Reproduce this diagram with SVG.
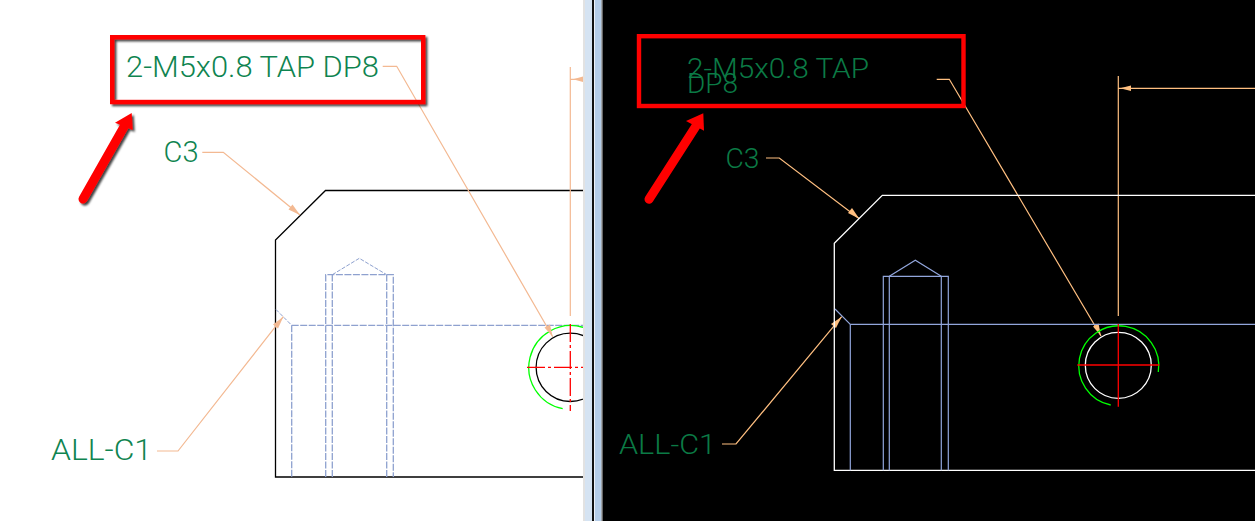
<svg xmlns="http://www.w3.org/2000/svg" width="1255" height="521" viewBox="0 0 1255 521">
<style>
.txl{font-family:"Roboto","Liberation Sans",Arial,sans-serif;font-weight:300;font-size:29px;fill:#0f8450}
.txr{font-family:"Roboto","Liberation Sans",Arial,sans-serif;font-weight:300;font-size:27px;fill:#0b7a45}
.outl{fill:none;stroke:#000;stroke-width:1.3}
.outr{fill:none;stroke:#fff;stroke-width:1.3}
.hidl{fill:none;stroke:#8ea1cf;stroke-width:1.3;stroke-dasharray:7 1.5}
.thin{fill:none;stroke:#8ea1cf;stroke-width:1;stroke-dasharray:4 1.5}
.hidr{fill:none;stroke:#92a6dc;stroke-width:1.2}
.ldl{fill:none;stroke:#f3b992;stroke-width:1.2}
.ldr{fill:none;stroke:#ffbf80;stroke-width:1.2}
.hdl{fill:#f3b992}
.hdr{fill:#ffbf80}
.grn{fill:none;stroke:#00ff00;stroke-width:1.3}
.cent{fill:none;stroke:#ff0000;stroke-width:1.3}
.box{fill:none;stroke:#ff0000;stroke-width:4.4}
.arw{fill:none;stroke:#ff0000;stroke-width:9;stroke-linecap:round}
.arh{fill:#ff0000}
</style>
<defs>
<filter id="sh" x="-10%" y="-20%" width="120%" height="140%">
<feDropShadow dx="2" dy="2" stdDeviation="1.3" flood-color="#000" flood-opacity="0.75"/>
</filter>
<clipPath id="lp"><rect x="0" y="0" width="583" height="521"/></clipPath>
</defs>
<rect id="bg-left" x="0" y="0" width="583" height="521" fill="#fff"/>
<rect id="bg-right" x="603" y="0" width="652" height="521" fill="#000"/>
<g id="divider">
<rect x="583" y="0" width="2" height="521" fill="#e2e2e2"/>
<rect x="585" y="0" width="7" height="521" fill="#d5e3f2"/>
<rect x="592" y="0" width="2" height="521" fill="#111"/>
<rect x="594" y="0" width="1" height="521" fill="#eef3f9"/>
<rect x="595" y="0" width="6.500" height="521" fill="#b5cde8"/>
<rect x="601.500" y="0" width="1.500" height="521" fill="#666"/>
</g>
<g id="left-drawing" clip-path="url(#lp)">
<path class="outl" d="M583 190.500H325.500L275.500 240V477H583"/>
<path class="hidl" d="M291.700 325.300H583M291.700 325.300V477M325.700 477V274.700H393.300V477M332.300 477V274.700M386.700 477V274.700"/>
<path class="thin" d="M276 309.500L291.700 325.300M332.300 274.700L359.300 258.300L386.700 274.700"/>
<circle class="outl" cx="570.300" cy="367.300" r="34.200"/>
<path class="grn" d="M562.700 408.700A42 42 0 1 1 583 327.300"/>
<path class="cent" stroke-dasharray="18 3 3 3" d="M570.300 324V411M527 367.300H583"/>
</g>
<g id="connectors">
<path class="ldl" d="M202.300 152.300H223.300L300 215"/>
<path class="hdl" d="M300 215L288.500 209.500L292.500 204.500Z"/>
<path class="ldl" d="M382.700 66.300H396.700L552.700 336.700"/>
<path class="hdl" d="M552.700 336.700L544.500 327.500L550 324.500Z"/>
<path class="ldl" d="M157 451H178L283.300 316.700"/>
<path class="hdl" d="M283.300 316.700L278 328.500L273 324.500Z"/>
<path class="ldl" d="M570.300 67V316M570.300 79.300H583" stroke-width="1.500"/>
<path class="hdl" d="M573 79.300L583 76.500V82Z"/>
<path class="ldr" d="M766 158H779.300L859.300 218.700"/>
<path class="hdr" d="M859.300 218.700L848 213L852 208Z"/>
<path class="ldr" d="M936.700 79.300H949.300L1101 336"/>
<path class="hdr" d="M1101 336L1093 326.500L1098.500 323.500Z"/>
<path class="ldr" d="M722 444H736L841.700 316.700"/>
<path class="hdr" d="M841.700 316.700L836 328L831 324Z"/>
<path class="ldr" d="M1118.300 76V316M1118.300 88.300H1255"/>
<path class="hdr" d="M1120 88.300L1131 85.500V91Z"/>
</g>
<g id="right-drawing">
<path class="outr" d="M1255 195.300H882.300L834.300 243.300V470.300H1255"/>
<path class="hidr" d="M850.300 324.300H1255M850.300 324.300V470.300M883.300 470.300V276.300H948.300V470.300M889.300 470.300V276.300M941.300 470.300V276.300"/>
<path class="hidr" stroke-width="1" d="M835 309L850.300 324.300M889.300 276.300L915.300 260.300L941.300 276.300"/>
<circle class="outr" cx="1118.300" cy="365.300" r="33"/>
<path class="grn" d="M1158.300 372A40 40 0 1 0 1110.700 405"/>
<path class="cent" d="M1118.300 324V406.700"/>
<path class="cent" stroke-width="1" d="M1077.300 365H1159.300"/>
</g>
<g id="label-tap-left"><text class="txl" x="126" y="76.700" textLength="253" lengthAdjust="spacingAndGlyphs">2-M5x0.8 TAP DP8</text></g>
<g id="label-c3-left"><text class="txl" x="163.500" y="161.700" textLength="35" lengthAdjust="spacingAndGlyphs">C3</text></g>
<g id="label-c1-left"><text class="txl" x="51" y="460" textLength="101" lengthAdjust="spacingAndGlyphs">ALL-C1</text></g>
<g id="label-tap-right"><text class="txr" x="687" y="78.300" textLength="182" lengthAdjust="spacingAndGlyphs">2-M5x0.8 TAP</text><text class="txr" x="687" y="93.300" textLength="51" lengthAdjust="spacingAndGlyphs">DP8</text></g>
<g id="label-c3-right"><text class="txr" x="725.500" y="167.700" textLength="34" lengthAdjust="spacingAndGlyphs">C3</text></g>
<g id="label-c1-right"><text class="txr" x="619" y="454" textLength="97" lengthAdjust="spacingAndGlyphs">ALL-C1</text></g>
<g id="callout-left" filter="url(#sh)">
<rect class="box" x="112.200" y="37.200" width="311" height="64.800"/>
<path class="arw" d="M83 199L125 125"/>
<path class="arh" d="M131.700 113L115 122.700L132.700 130Z"/>
</g>
<g id="callout-right">
<rect class="box" x="639" y="36.200" width="324.500" height="69.800"/>
<path class="arw" d="M649 199.300L696 126"/>
<path class="arh" d="M703.300 113.300L686 121L704 130.700Z"/>
</g>
</svg>
